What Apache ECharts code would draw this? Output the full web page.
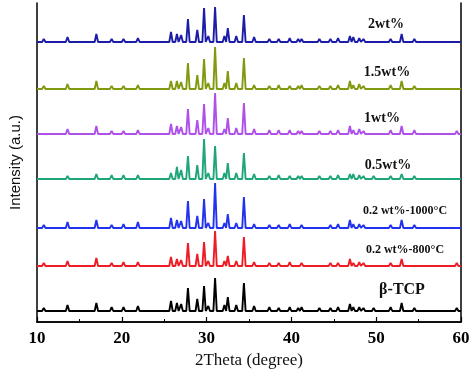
<!DOCTYPE html>
<html>
<head>
<meta charset="utf-8">
<script src="https://cdn.jsdelivr.net/npm/echarts@6/dist/echarts.min.js"></script>
<style>
  html, body { margin: 0; padding: 0; background: #fff; }
  #main { width: 474px; height: 376px; }
</style>
</head>
<body>
<div id="main"></div>
<script>
// reflection positions (2theta, degree) shared by all patterns
var peakPos = [10.8, 13.6, 14.8, 17.0, 18.8, 20.2, 21.9, 25.8, 26.5, 27.0, 27.8, 28.9, 29.7, 30.2, 31.0, 32.1, 32.5, 33.5, 34.4, 35.6,
               37.4, 38.5, 39.8, 40.8, 41.2, 42.0, 43.3, 44.6, 45.5, 46.9, 47.3, 48.0, 48.5, 49.7, 51.7, 53.0, 54.5, 56.5, 57.5, 59.5];

var names = ['β-TCP', '0.2 wt%-800°C', '0.2 wt%-1000°C', '0.5wt%', '1wt%', '1.5wt%', '2wt%'];
var colors = ['#000000', '#ee1c25', '#2233ee', '#1fa57a', '#b050ea', '#7f9a0e', '#1c1ca8'];
// vertical offsets of each pattern (stacked)
var offsets = [11, 56, 94, 143, 188, 233, 280];

var hTCP   = [3, 6, 2, 8, 4, 4, 5, 10, 8, 7, 23, 12, 25, 5, 33, 6, 14, 6, 28, 5, 4, 3, 4, 3, 4, 2, 3, 3, 4, 7, 4, 4, 3, 3, 4, 8, 3, 2, 2, 3];
var h800   = [3, 5, 2, 8, 3, 4, 4, 9, 7, 6, 23, 12, 24, 5, 35, 5, 10, 5, 29, 4, 3, 3, 4, 2, 3, 2, 2, 3, 3, 7, 3, 4, 3, 2, 3, 7, 2, 2, 2, 3];
var h1000  = [3, 6, 2, 8, 3, 4, 6, 10, 8, 7, 27, 12, 29, 5, 45, 5, 14, 5, 31, 4, 3, 3, 4, 2, 3, 2, 2, 3, 4, 8, 4, 4, 3, 2, 3, 8, 3, 2, 2, 2];
var h05    = [2, 3, 2, 5, 4, 4, 4, 6, 12, 9, 23, 14, 40, 6, 33, 6, 16, 6, 26, 5, 3, 4, 3, 3, 3, 2, 3, 3, 4, 5, 5, 4, 3, 3, 3, 5, 3, 2, 2, 2];
var h1     = [2, 5, 2, 8, 3, 3, 4, 10, 8, 7, 25, 14, 30, 6, 41, 5, 16, 6, 31, 5, 4, 4, 4, 3, 3, 2, 3, 3, 4, 8, 4, 5, 3, 2, 4, 8, 4, 2, 2, 3];
var h15    = [3, 5, 2, 8, 3, 3, 4, 8, 8, 7, 26, 14, 30, 6, 42, 6, 18, 6, 31, 4, 3, 4, 3, 3, 4, 2, 3, 3, 4, 8, 4, 5, 3, 2, 4, 8, 3, 2, 2, 2];
var h2     = [3, 5, 2, 8, 3, 3, 4, 10, 8, 7, 23, 12, 34, 6, 35, 6, 14, 6, 27, 5, 3, 3, 4, 3, 3, 2, 3, 3, 4, 6, 5, 4, 3, 2, 3, 8, 3, 2, 2, 2];
var heights = [hTCP, h800, h1000, h05, h1, h15, h2];

var halfWidth = 0.2;

function buildPattern(base, hs) {
    var pts = [[10, base]];
    for (var i = 0; i < peakPos.length; i++) {
        pts.push([peakPos[i] - halfWidth, base]);
        pts.push([peakPos[i], base + hs[i]]);
        pts.push([peakPos[i] + halfWidth, base]);
    }
    pts.push([60, base]);
    return pts;
}

var series = names.map(function (n, i) {
    return {
        name: n,
        type: 'line',
        showSymbol: false,
        animation: false,
        lineStyle: { color: colors[i], width: 1.9 },
        data: buildPattern(offsets[i], heights[i])
    };
});

var labelPos = [[402, 290, 16], [405, 250, 12], [405, 211, 12], [388, 165, 14], [382, 118, 14], [387, 72, 14], [386, 24, 14]];

var chart = echarts.init(document.getElementById('main'));
var option = {
    backgroundColor: '#fff',
    animation: false,
    grid: { left: 33, right: 13, top: 3, bottom: 54 },
    xAxis: [{
        type: 'value',
        min: 10,
        max: 60,
        interval: 10,
        name: '2Theta (degree)',
        nameLocation: 'middle',
        nameGap: 30,
        nameTextStyle: { fontFamily: 'Liberation Serif', fontSize: 17, color: '#111' },
        axisLine: { lineStyle: { color: '#000', width: 1.5 } },
        axisTick: { inside: true, length: 5, lineStyle: { color: '#000', width: 1.2 } },
        minorTick: { show: true, splitNumber: 2, length: 3, lineStyle: { color: '#000' } },
        axisLabel: { fontFamily: 'Liberation Serif', fontWeight: 'bold', fontSize: 17, color: '#000', margin: 8 },
        splitLine: { show: false }
    }, {
        type: 'value',
        position: 'top',
        min: 10,
        max: 60,
        axisLine: { show: true, lineStyle: { color: '#000', width: 1.5 } },
        axisTick: { show: false },
        axisLabel: { show: false },
        splitLine: { show: false }
    }],
    yAxis: [{
        type: 'value',
        min: 0,
        max: 319,
        name: 'Intensity (a.u.)',
        nameLocation: 'middle',
        nameGap: 14,
        nameTextStyle: { fontFamily: 'Liberation Sans', fontSize: 15, color: '#111' },
        axisLine: { show: true, lineStyle: { color: '#000', width: 1.5 } },
        axisTick: { show: false },
        axisLabel: { show: false },
        splitLine: { show: false }
    }, {
        type: 'value',
        position: 'right',
        min: 0,
        max: 319,
        axisLine: { show: true, lineStyle: { color: '#000', width: 1.5 } },
        axisTick: { show: false },
        axisLabel: { show: false },
        splitLine: { show: false }
    }],
    graphic: names.map(function (t, i) {
        return {
            type: 'text',
            x: labelPos[i][0],
            y: labelPos[i][1],
            style: {
                text: t,
                fontFamily: 'Liberation Serif',
                fontWeight: 'bold',
                fontSize: labelPos[i][2],
                fill: '#111',
                align: 'center',
                verticalAlign: 'middle'
            }
        };
    }),
    series: series
};
chart.setOption(option);
</script>
</body>
</html>
